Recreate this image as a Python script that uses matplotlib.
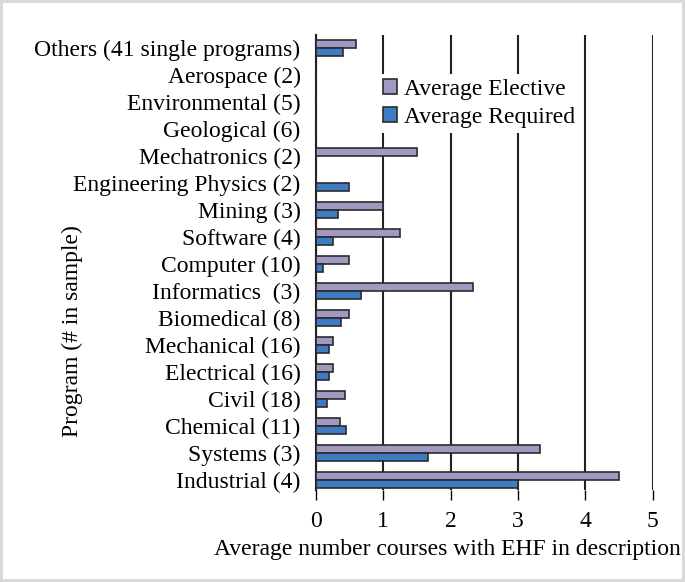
import matplotlib.pyplot as plt
import numpy as np

plt.rcParams['font.family'] = ['Liberation Serif', 'DejaVu Serif']

# programs from bottom to top
programs = ['Industrial (4)', 'Systems (3)', 'Chemical (11)', 'Civil (18)',
            'Electrical (16)', 'Mechanical (16)', 'Biomedical (8)',
            'Informatics  (3)', 'Computer (10)', 'Software (4)', 'Mining (3)',
            'Engineering Physics (2)', 'Mechatronics (2)', 'Geological (6)',
            'Environmental (5)', 'Aerospace (2)', 'Others (41 single programs)']
elective = [4.5, 3.33, 0.36, 0.44, 0.25, 0.25, 0.5, 2.33, 0.5, 1.25, 1.0,
            0.0, 1.5, 0.0, 0.0, 0.0, 0.6]
required = [3.0, 1.67, 0.45, 0.17, 0.19, 0.19, 0.375, 0.67, 0.1, 0.25, 0.33,
            0.5, 0.0, 0.0, 0.0, 0.0, 0.4]

fs = 17

fig = plt.figure(figsize=(6.85, 5.82), dpi=100)
fig.patch.set_edgecolor('#d9d9d9')
fig.patch.set_linewidth(4)
ax = fig.add_axes([0.461, 0.158, 0.492, 0.782])

y = np.arange(len(programs))
h = 0.3
ax.barh(y + h / 2, elective, height=h, color='#a298c2', edgecolor='#2b2b2b',
        linewidth=1.2, label='Average Elective', zorder=3)
ax.barh(y - h / 2, required, height=h, color='#3d7cc4', edgecolor='#2b2b2b',
        linewidth=1.2, label='Average Required', zorder=3)

ax.set_xlim(0, 5)
ax.set_ylim(-0.37, 16.48)
ax.set_yticks(y)
ax.set_yticklabels(programs, fontsize=fs)
ax.tick_params(axis='y', length=0, pad=11)
ax.set_xticks(range(6))
ax.tick_params(axis='x', length=7, width=1, pad=8, labelsize=fs)
ax.xaxis.grid(True, color='#222222', linewidth=1.5, zorder=1)
for s in ['top', 'right', 'bottom']:
    ax.spines[s].set_visible(False)
ax.spines['left'].set_linewidth(1.5)
ax.spines['left'].set_color('#222222')

ax.set_xlabel('Average number courses with EHF in description', fontsize=fs)
ax.xaxis.set_label_coords(0.39, -0.107)
ax.set_ylabel('Program (# in sample)', fontsize=fs)
ax.yaxis.set_label_coords(-0.69, 0.35)

leg = ax.legend(loc='upper left', bbox_to_anchor=(0.15, 0.94), fontsize=fs,
                frameon=True, framealpha=1, edgecolor='none', fancybox=False,
                handlelength=0.6, handleheight=0.6, handletextpad=0.3,
                borderpad=0.2, labelspacing=0.3)
leg.set_zorder(5)

fig.savefig('out.png', dpi=100)
